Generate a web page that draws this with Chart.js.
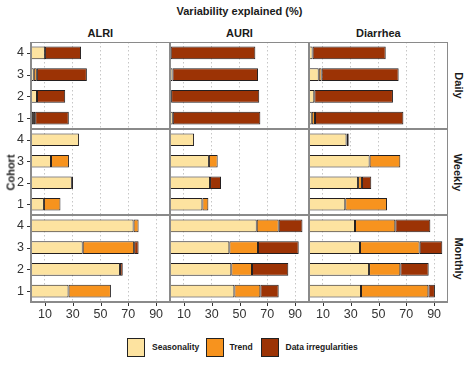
<!DOCTYPE html>
<html>
<head>
<meta charset="utf-8">
<script src="https://cdn.jsdelivr.net/npm/chart.js@4.4.1/dist/chart.umd.min.js"></script>
<style>
    body { margin: 0; background: #fff; font-family: "Liberation Sans", Arial, sans-serif; }
    #wrap { position: relative; width: 474px; height: 368px; overflow: hidden; }
    #wrap canvas { position: absolute; }
    .lbl { position: absolute; font-weight: bold; font-size: 11px; color: #1a1a1a; white-space: nowrap; line-height: 13px; }
    .key { position: absolute; box-sizing: border-box; border: 1px solid #222; }
    .keytxt { position: absolute; font-weight: bold; font-size: 8.5px; color: #1a1a1a; white-space: nowrap; line-height: 10px; }
</style>
</head>
<body>
<div id="wrap"></div>
<script>
// categories (top to bottom) and facets
var cohorts = ['4', '3', '2', '1'];
var diseases = ['ALRI', 'AURI', 'Diarrhea'];
var frequencies = ['Daily', 'Weekly', 'Monthly'];
var components = ['Seasonality', 'Trend', 'Data irregularities'];
var componentColors = ['#fde3a0', '#f7931e', '#9c3305'];
var xTicks = [10, 30, 50, 70, 90];

// % variability explained, cohort order 4,3,2,1
// Daily
var alriDailySeason = [10, 2, 4.3, 1.5];
var alriDailyTrend = [0, 2.2, 0, 1.5];
var alriDailyIrreg = [26, 36, 20.3, 24.2];
var auriDailySeason = [0.5, 1.8, 0.8, 2];
var auriDailyTrend = [0, 0, 0, 0];
var auriDailyIrreg = [60.9, 61.5, 63.4, 63];
var diarDailySeason = [2.6, 7, 3.8, 2];
var diarDailyTrend = [0, 2.1, 0, 2.3];
var diarDailyIrreg = [52.6, 55.4, 56.6, 63.6];
// Weekly
var alriWeeklySeason = [34.5, 14.4, 29.4, 9.3];
var alriWeeklyTrend = [0, 12.9, 0, 11.9];
var alriWeeklyIrreg = [0, 0, 0.8, 0];
var auriWeeklySeason = [17.3, 28, 28.8, 23.3];
var auriWeeklyTrend = [0, 6.3, 0, 4.3];
var auriWeeklyIrreg = [0, 0, 7.9, 0];
var diarWeeklySeason = [27, 43.6, 35.3, 26.1];
var diarWeeklyTrend = [1.3, 22.1, 2.8, 30];
var diarWeeklyIrreg = [0.6, 0, 6.7, 0];
// Monthly
var alriMonthlySeason = [73.8, 37.2, 64, 27];
var alriMonthlyTrend = [3.6, 37, 0, 30.5];
var alriMonthlyIrreg = [0, 3.2, 2, 0];
var auriMonthlySeason = [62.4, 42.7, 44.1, 46.3];
var auriMonthlyTrend = [15.8, 20.6, 14.9, 18.7];
var auriMonthlyIrreg = [17.1, 29.3, 26.1, 13.2];
var diarMonthlySeason = [33.1, 36.7, 43.2, 37.4];
var diarMonthlyTrend = [29, 42.9, 22.5, 48.5];
var diarMonthlyIrreg = [25.2, 16.3, 20.4, 4.7];

// [row][col] -> [season, trend, irreg]
var panelData = [
    [[alriDailySeason, alriDailyTrend, alriDailyIrreg], [auriDailySeason, auriDailyTrend, auriDailyIrreg], [diarDailySeason, diarDailyTrend, diarDailyIrreg]],
    [[alriWeeklySeason, alriWeeklyTrend, alriWeeklyIrreg], [auriWeeklySeason, auriWeeklyTrend, auriWeeklyIrreg], [diarWeeklySeason, diarWeeklyTrend, diarWeeklyIrreg]],
    [[alriMonthlySeason, alriMonthlyTrend, alriMonthlyIrreg], [auriMonthlySeason, auriMonthlyTrend, auriMonthlyIrreg], [diarMonthlySeason, diarMonthlyTrend, diarMonthlyIrreg]]
];

// layout of the panel grid
var plotLeft = [31, 170, 309], plotRight = [170, 309, 448];
var rowTop = [42, 129, 215], rowBottom = [129, 215, 302];
var yAxisW = 31, xAxisH = 22;
var tickFont = { family: "'Liberation Sans', Arial, sans-serif", size: 12.5 };

var wrap = document.getElementById('wrap');

var framePlugin = {
    id: 'frame',
    afterDraw: function (chart) {
        var ctx = chart.ctx, a = chart.chartArea;
        ctx.save();
        ctx.strokeStyle = '#333';
        ctx.lineWidth = 1;
        if (chart.$showY) {
            chart.scales.y.ticks.forEach(function (t, i) {
                var y = Math.round(chart.scales.y.getPixelForTick(i)) + 0.5;
                ctx.beginPath(); ctx.moveTo(a.left - 4, y); ctx.lineTo(a.left, y); ctx.stroke();
            });
        }
        if (chart.$showX) {
            xTicks.forEach(function (v) {
                var x = Math.round(chart.scales.x.getPixelForValue(v)) + 0.5;
                ctx.beginPath(); ctx.moveTo(x, a.bottom); ctx.lineTo(x, a.bottom + 4); ctx.stroke();
            });
        }
        ctx.strokeStyle = '#8a8a8a';
        ctx.lineWidth = 2;
        ctx.strokeRect(a.left, a.top, a.right - a.left, a.bottom - a.top);
        ctx.restore();
    }
};

function makePanel(row, col) {
    var showY = col === 0, showX = row === 2;
    var cv = document.createElement('canvas');
    var left = showY ? 0 : plotLeft[col];
    var w = plotRight[col] - left;
    var h = rowBottom[row] - rowTop[row] + (showX ? xAxisH : 0);
    cv.width = w; cv.height = h;
    cv.style.left = left + 'px'; cv.style.top = rowTop[row] + 'px';
    cv.style.width = w + 'px'; cv.style.height = h + 'px';
    wrap.appendChild(cv);

    var vals = panelData[row][col];
    var chart = new Chart(cv.getContext('2d'), {
        type: 'bar',
        data: {
            labels: cohorts,
            datasets: components.map(function (c, k) {
                return {
                    label: c,
                    data: vals[k],
                    backgroundColor: componentColors[k],
                    borderColor: '#231f20',
                    borderWidth: 1,
                    borderSkipped: false,
                    categoryPercentage: 1,
                    barPercentage: 0.58
                };
            })
        },
        options: {
            indexAxis: 'y',
            responsive: false,
            animation: false,
            devicePixelRatio: 1,
            layout: { padding: 0, autoPadding: false },
            plugins: { legend: { display: false }, tooltip: { enabled: false } },
            scales: {
                x: {
                    type: 'linear', stacked: true, min: 0, max: 100,
                    afterBuildTicks: function (s) { s.ticks = xTicks.map(function (v) { return { value: v }; }); },
                    grid: { color: '#c6c6c6', lineWidth: 1, drawTicks: false },
                    border: { display: false, dash: [1.5, 2.5] },
                    ticks: { display: showX, font: tickFont, color: '#333', padding: 5, maxRotation: 0, autoSkip: false },
                    afterFit: function (s) {
                        s.height = showX ? xAxisH : 0;
                        s.paddingLeft = 0; s.paddingRight = 0;
                    }
                },
                y: {
                    stacked: true,
                    display: showY,
                    grid: { display: false, drawTicks: false },
                    border: { display: false },
                    ticks: { font: tickFont, color: '#333', padding: 7 },
                    afterFit: function (s) {
                        s.width = showY ? yAxisW : 0;
                        s.paddingTop = 0; s.paddingBottom = 0;
                    }
                }
            }
        },
        plugins: [framePlugin]
    });
    chart.$showY = showY;
    chart.$showX = showX;
    chart.draw();
}

for (var r = 0; r < frequencies.length; r++) {
    for (var c = 0; c < diseases.length; c++) {
        makePanel(r, c);
    }
}

function addLabel(text, x, y, rot, cls) {
    var d = document.createElement('div');
    d.className = cls || 'lbl';
    d.textContent = text;
    wrap.appendChild(d);
    d.style.left = (x - d.offsetWidth / 2) + 'px';
    d.style.top = (y - d.offsetHeight / 2) + 'px';
    if (rot) d.style.transform = 'rotate(' + rot + 'deg)';
    return d;
}

addLabel('Variability explained (%)', 239.5, 11);
diseases.forEach(function (name, i) { addLabel(name, (plotLeft[i] + plotRight[i]) / 2, 33); });
frequencies.forEach(function (name, i) { addLabel(name, 457.5, (rowTop[i] + rowBottom[i]) / 2, 90); });
addLabel('Cohort', 10.5, 172, -90);

// legend
var keyX = [127, 205.5, 261], textX = [152, 229.5, 285.5];
components.forEach(function (name, k) {
    var b = document.createElement('div');
    b.className = 'key';
    b.style.left = keyX[k] + 'px'; b.style.top = '338px';
    b.style.width = '18px'; b.style.height = '19px';
    b.style.background = componentColors[k];
    wrap.appendChild(b);
    var t = document.createElement('div');
    t.className = 'keytxt';
    t.textContent = name;
    t.style.left = textX[k] + 'px'; t.style.top = '342px';
    wrap.appendChild(t);
});
</script>
</body>
</html>
